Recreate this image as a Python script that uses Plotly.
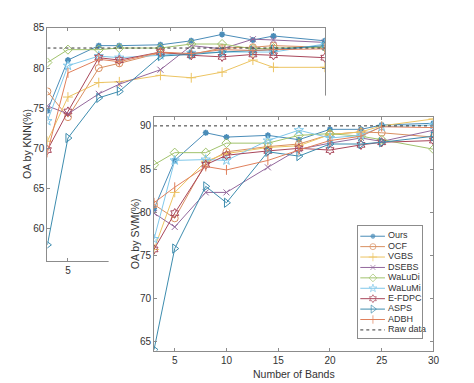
import plotly.graph_objects as go

# ---------------- data ----------------
bands = [3, 5, 8, 10, 14, 17, 20, 23, 25, 30]
methods = ["Ours", "OCF", "VGBS", "DSEBS", "WaLuDi", "WaLuMi", "E-FDPC", "ASPS", "ADBH"]

knn_ours   = [74.7, 81.0, 82.8, 82.8, 82.9, 83.4, 84.2, 83.5, 84.0, 83.4]
knn_ocf    = [77.1, 73.9, 80.0, 80.6, 81.9, 81.7, 82.5, 82.6, 82.8, 82.6]
knn_vgbs   = [70.9, 76.4, 78.2, 78.3, 79.1, 78.8, 79.5, 81.0, 80.1, 80.1]
knn_dsebs  = [75.3, 74.3, 76.8, 78.0, 79.8, 82.8, 82.4, 83.6, 83.5, 83.2]
knn_waludi = [80.7, 82.3, 82.3, 82.5, 82.5, 83.0, 83.0, 82.4, 82.5, 82.6]
knn_walumi = [73.4, 80.3, 81.5, 81.3, 81.6, 81.9, 82.0, 82.0, 82.0, 83.0]
knn_efdpc  = [69.8, 74.6, 81.3, 81.0, 82.0, 81.6, 81.4, 81.7, 81.6, 81.3]
knn_asps   = [58.0, 71.3, 76.3, 77.1, 81.5, 81.7, 82.0, 82.2, 82.3, 82.8]
knn_adbh   = [69.5, 79.4, 81.1, 80.8, 82.0, 81.8, 82.3, 82.2, 82.3, 82.4]
knn_raw = 82.5

svm_ours   = [80.4, 86.0, 89.2, 88.7, 88.9, 88.4, 89.6, 89.6, 90.1, 90.3]
svm_ocf    = [80.9, 79.3, 85.7, 87.0, 87.6, 87.9, 89.0, 89.3, 89.2, 88.7]
svm_vgbs   = [75.7, 82.3, 85.9, 86.8, 87.5, 87.7, 89.0, 89.3, 90.0, 90.8]
svm_dsebs  = [79.9, 78.3, 82.3, 82.3, 85.2, 87.3, 88.0, 88.6, 88.2, 89.5]
svm_waludi = [85.5, 86.9, 86.9, 88.0, 88.0, 88.9, 89.1, 88.8, 88.4, 87.3]
svm_walumi = [76.9, 86.0, 86.1, 86.0, 88.3, 89.5, 88.6, 88.9, 89.9, 90.1]
svm_efdpc  = [75.7, 79.9, 85.5, 86.6, 87.1, 87.4, 87.2, 87.8, 88.1, 88.3]
svm_asps   = [64.1, 75.8, 83.0, 81.1, 87.0, 86.5, 87.9, 87.9, 88.1, 88.8]
svm_adbh   = [81.1, 82.9, 85.3, 84.9, 86.0, 87.2, 88.3, 88.8, 89.9, 89.8]
svm_raw = 90.0

x_ticks = [5, 10, 15, 20, 25, 30]
knn_yticks = [60, 65, 70, 75, 80, 85]
svm_yticks = [65, 70, 75, 80, 85, 90]
legend_labels = methods + ["Raw data"]

knn_series = [knn_ours, knn_ocf, knn_vgbs, knn_dsebs, knn_waludi, knn_walumi, knn_efdpc, knn_asps, knn_adbh]
svm_series = [svm_ours, svm_ocf, svm_vgbs, svm_dsebs, svm_waludi, svm_walumi, svm_efdpc, svm_asps, svm_adbh]

# ---------------- styles ----------------
colors = ["#4a8cb8", "#d98f60", "#ecc462", "#93689c", "#a0c26c", "#80c8ea", "#a8465a", "#3d8cae", "#e0805c"]
symbols = ["asterisk-open", "circle-open", "cross-thin-open", "x-thin-open", "diamond-open",
           "star-open", "hexagram-open", "triangle-right-open", "line-ns-open"]
sizes = [5, 7, 7, 6, 7, 7, 7, 8, 7]
mlw = [1.6, 1, 1, 1, 1, 1, 1, 1, 1]
raw_color = "#333333"
axis_color = "#8c8c8c"
text_color = "#333333"
FONT = "Liberation Sans, Arial, sans-serif"

W, H = 474, 383
def dx(a, b):
    return [a / W, b / W]
def dy(top, bottom):
    return [1 - bottom / H, 1 - top / H]

fig = go.Figure()

# KNN subplot (background)
for name, vals, c, s, sz, lw in zip(methods, knn_series, colors, symbols, sizes, mlw):
    fig.add_trace(go.Scatter(x=bands, y=vals, mode="lines+markers", name=name,
                             line=dict(color=c, width=1),
                             marker=dict(symbol=s, size=sz, color=c, line=dict(color=c, width=lw)),
                             xaxis="x", yaxis="y", showlegend=False))
fig.add_trace(go.Scatter(x=[bands[0], bands[-1]], y=[knn_raw, knn_raw], mode="lines",
                         line=dict(color=raw_color, width=1, dash="dot"),
                         xaxis="x", yaxis="y", showlegend=False))

# cover subplot (white area under the inset)
fig.add_trace(go.Scatter(x=[None], y=[None], xaxis="x2", yaxis="y2", showlegend=False, hoverinfo="skip"))

# SVM subplot (inset)
for name, vals, c, s, sz, lw in zip(methods, svm_series, colors, symbols, sizes, mlw):
    fig.add_trace(go.Scatter(x=bands, y=vals, mode="lines+markers", name=name,
                             line=dict(color=c, width=1),
                             marker=dict(symbol=s, size=sz, color=c, line=dict(color=c, width=lw)),
                             xaxis="x3", yaxis="y3", showlegend=False))
fig.add_trace(go.Scatter(x=[bands[0], bands[-1]], y=[svm_raw, svm_raw], mode="lines",
                         line=dict(color=raw_color, width=1, dash="dot"),
                         xaxis="x3", yaxis="y3", showlegend=False))

# compact legend drawn in its own small subplot
for i, lab in enumerate(legend_labels):
    if i < len(methods):
        fig.add_trace(go.Scatter(x=[0.03, 0.23, 0.42], y=[i, i, i], mode="lines+markers",
                                 line=dict(color=colors[i], width=1),
                                 marker=dict(symbol=symbols[i], size=[0, sizes[i] - 1, 0], color=colors[i],
                                             line=dict(color=colors[i], width=mlw[i])),
                                 xaxis="x4", yaxis="y4", showlegend=False, hoverinfo="skip"))
    else:
        fig.add_trace(go.Scatter(x=[0.03, 0.42], y=[i, i], mode="lines",
                                 line=dict(color=raw_color, width=1, dash="dot"),
                                 xaxis="x4", yaxis="y4", showlegend=False, hoverinfo="skip"))
fig.add_trace(go.Scatter(x=[0.47] * len(legend_labels), y=list(range(len(legend_labels))),
                         mode="text", text=legend_labels, textposition="middle right",
                         textfont=dict(family=FONT, size=9, color=text_color), cliponaxis=False,
                         xaxis="x4", yaxis="y4", showlegend=False, hoverinfo="skip"))

common = dict(showline=True, linecolor=axis_color, linewidth=1, mirror="ticks",
              ticks="inside", ticklen=3, tickcolor=axis_color, showgrid=False, zeroline=False,
              tickfont=dict(family=FONT, size=10, color=text_color))
title_font = dict(family=FONT, size=10.5, color=text_color)
hidden = dict(showline=False, showticklabels=False, ticks="", showgrid=False, zeroline=False)

fig.update_layout(
    width=W, height=H, margin=dict(l=0, r=0, t=0, b=0),
    paper_bgcolor="white", plot_bgcolor="white", showlegend=False,
    font=dict(family=FONT, color=text_color),
    xaxis=dict(domain=dx(48, 329), range=[3, 30], tickvals=x_ticks, anchor="y", **common),
    yaxis=dict(domain=dy(22.3, 259), range=[56, 85], tickvals=knn_yticks, anchor="x", **common),
    xaxis2=dict(domain=dx(110, 474), range=[0, 1], anchor="y2", **hidden),
    yaxis2=dict(domain=dy(91, 383), range=[0, 1], anchor="x2", **hidden),
    xaxis3=dict(domain=dx(156, 439), range=[3, 30], tickvals=x_ticks, anchor="y3", **common),
    yaxis3=dict(domain=dy(113, 350), range=[64, 91], tickvals=svm_yticks, anchor="x3", **common),
    xaxis4=dict(domain=dx(363, 427), range=[0, 1], anchor="y4", showline=True, mirror=True,
                linecolor=axis_color, linewidth=1, showticklabels=False, ticks="",
                showgrid=False, zeroline=False),
    yaxis4=dict(domain=dy(223, 337), range=[9.75, -1.03], anchor="x4", showline=True, mirror=True,
                linecolor=axis_color, linewidth=1, showticklabels=False, ticks="",
                showgrid=False, zeroline=False),
    annotations=[
        dict(text="OA by KNN(%)", x=28 / W, y=1 - 140.5 / H, xref="paper", yref="paper",
             textangle=-90, showarrow=False, font=title_font, xanchor="center", yanchor="middle"),
        dict(text="OA by SVM(%)", x=137 / W, y=1 - 231.5 / H, xref="paper", yref="paper",
             textangle=-90, showarrow=False, font=title_font, xanchor="center", yanchor="middle"),
        dict(text="Number of Bands", x=297.5 / W, y=1 - 374 / H, xref="paper", yref="paper",
             showarrow=False, font=title_font, xanchor="center", yanchor="middle"),
    ],
)

fig.write_html("out.html", config={"displayModeBar": False},
               post_script="document.body.style.margin='0px';")
